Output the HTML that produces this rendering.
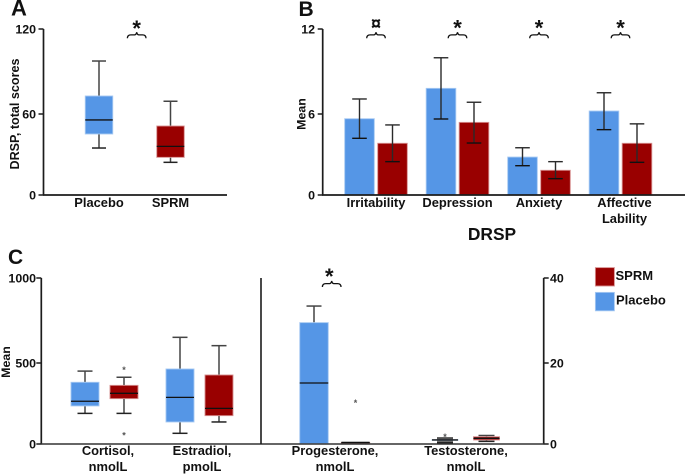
<!DOCTYPE html>
<html lang="en">
<head>
<meta charset="utf-8">
<title>DRSP and hormone charts</title>
<style>
html,body{margin:0;padding:0;background:#fff;}
svg{display:block;font-family:"Liberation Sans",Arial,sans-serif;font-weight:bold;fill:#111;filter:blur(0.3px);}
</style>
</head>
<body>
<svg id="chart" width="685" height="474" viewBox="0 0 685 474" xmlns="http://www.w3.org/2000/svg"></svg>
<script>
// ---- Panel A data ----
const panelACategories = ['Placebo', 'SPRM'];
const panelATicks = [0, 60, 120];
const panelABoxes = [
  { hi: 97.4, q3: 72.7, med: 55.6, q1: 45.2, lo: 34.8 },
  { hi: 69, q3: 51.1, med: 36, q1: 27.9, lo: 24.2 }
];
// ---- Panel B data ----
const panelBCategories = [['Irritability'], ['Depression'], ['Anxiety'], ['Affective', 'Lability']];
const panelBTicks = [0, 6, 12];
const panelBPlacebo = [5.65, 7.81, 2.81, 6.21];
const panelBPlaceboHigh = [7.06, 9.97, 3.5, 7.5];
const panelBPlaceboLow = [4.2, 5.63, 2.17, 4.84];
const panelBSprm = [3.83, 5.38, 1.83, 3.83];
const panelBSprmHigh = [5.19, 6.83, 2.47, 5.27];
const panelBSprmLow = [2.47, 3.85, 1.21, 2.42];
const panelBMarks = ['\u00A4', '*', '*', '*'];
// ---- Panel C data ----
const panelCLeftCategories = [['Cortisol,', 'nmolL'], ['Estradiol,', 'pmolL']];
const panelCRightCategories = [['Progesterone,', 'nmolL'], ['Testosterone,', 'nmolL']];
const panelCLeftTicks = [0, 500, 1000];
const panelCRightTicks = [0, 20, 40];
const panelCLeftBoxes = [
  [{ hi: 450, q3: 381, med: 264, q1: 235, lo: 189, out: [] },
   { hi: 412, q3: 362, med: 313, q1: 280, lo: 189, out: [469, 66] }],
  [{ hi: 651, q3: 463, med: 288, q1: 136, lo: 66, out: [] },
   { hi: 602, q3: 426, med: 220, q1: 175, lo: 136, out: [] }]
];
const panelCRightBoxes = [
  [{ hi: 33.4, q3: 29.5, med: 15.06, q1: 0.1, lo: 0.35, out: [] },
   { hi: 0.35, q3: 0.35, med: 0.35, q1: 0.35, lo: 0.35, out: [10.6] }],
  [{ hi: 1.5, q3: 1.05, med: 1.0, q1: 0.95, lo: 0.3, out: [2.2] },
   { hi: 2.1, q3: 1.8, med: 1.4, q1: 1.0, lo: 0.65, out: [] }]
];
const seriesNames = ['Placebo', 'SPRM'];

const BLUE = '#5596e6', RED = '#990000', BLUE_EDGE = '#a5c8f2', RED_EDGE = '#d79090', INK = '#1c1c1c';
const NS = 'http://www.w3.org/2000/svg';
const root = document.getElementById('chart');

function slug(s) { return String(s).toLowerCase().replace(/[^a-z0-9]+/g, '-').replace(/^-|-$/g, ''); }

function node(tag, name, attrs, interact) {
  const el = document.createElementNS(NS, tag);
  for (const k in attrs) el.setAttribute(k, attrs[k]);
  
  
  root.appendChild(el);
  return el;
}
function line(name, x1, y1, x2, y2, stroke, w) {
  return node('line', name, { x1: x1, y1: y1, x2: x2, y2: y2, stroke: stroke || INK, 'stroke-width': w || 1.4 });
}
function label(name, str, x, y, size, anchor, extra) {
  const el = node('text', name, Object.assign({ x: x, y: y, 'font-size': size, 'text-anchor': anchor || 'middle' }, extra || {}));
  el.textContent = str;
  return el;
}
// Value axis: anchored piecewise-linear mapping through the three printed ticks.
function axisScale(ticks, p0, p1, p2) {
  return function (v) {
    const mid = ticks[1];
    if (v <= mid) return p0 + (p1 - p0) * (v - ticks[0]) / (mid - ticks[0]);
    return p1 + (p2 - p1) * (v - mid) / (ticks[2] - mid);
  };
}
function yAxis(prefix, ticks, scale, x, side, labelX) {
  line(prefix + '-axis-line', x, scale(ticks[0]), x, scale(ticks[ticks.length - 1]), INK, 1.7);
  ticks.forEach(function (t) {
    const y = scale(t);
    line(prefix + '-tick-' + t, x, y, x + side * 5, y, INK, 1.5);
    label(prefix + '-tick-label-' + t, t, labelX, y + 4.5, 12.4, side < 0 ? 'end' : 'start');
  });
}
function brace(name, cx, y) {
  const w = 9.3, h = 6;
  const d = 'M' + (cx - w) + ' ' + (y + h) + ' Q' + (cx - w) + ' ' + (y + 2.6) + ' ' + (cx - w + 3.5) + ' ' + (y + 2.6) +
    ' L' + (cx - 2) + ' ' + (y + 2.6) + ' Q' + (cx - 0.5) + ' ' + (y + 2.4) + ' ' + cx + ' ' + y +
    ' Q' + (cx + 0.5) + ' ' + (y + 2.4) + ' ' + (cx + 2) + ' ' + (y + 2.6) +
    ' L' + (cx + w - 3.5) + ' ' + (y + 2.6) + ' Q' + (cx + w) + ' ' + (y + 2.6) + ' ' + (cx + w) + ' ' + (y + h);
  node('path', name, { d: d, fill: 'none', stroke: '#111', 'stroke-width': 1.3 });
}
function sigMark(name, mark, x, top) {
  if (mark === '*') label(name, mark, x, top + 16, 22, 'middle');
  else label(name, mark, x, top + 10, 18, 'middle');
}
function drawBox(name, b, cx, width, capW, scale, series) {
  const fill = series === 0 ? BLUE : RED;
  const edge = series === 0 ? BLUE_EDGE : RED_EDGE;
  const thin = scale(b.lo) - scale(b.hi) < 8;
  const block = thin && series === 0 && scale(b.lo) - scale(b.hi) > 1;
  line(name + '-whisker', cx, scale(b.hi), cx, scale(b.lo), block ? '#6b6b6b' : '#444', block ? capW : 1.5);
  line(name + '-cap-high', cx - capW / 2, scale(b.hi), cx + capW / 2, scale(b.hi), '#444', 1.5);
  line(name + '-cap-low', cx - capW / 2, scale(b.lo), cx + capW / 2, scale(b.lo), '#222', 1.5);
  node('rect', name + '-box', {
    x: cx - width / 2, y: scale(b.q3), width: width,
    height: Math.max(scale(b.q1) - scale(b.q3), 0.5), fill: fill, stroke: edge, 'stroke-width': 0.9
  });
  line(name + '-median', cx - width / 2, scale(b.med), cx + width / 2, scale(b.med), '#111', 1.3);
  (b.out || []).forEach(function (v, i) {
    const mark = label(name + '-outlier-' + i, '*', cx, scale(v) + 5, 9, 'middle');
    mark.setAttribute('fill', '#555');
  });
}

// ---------- Panel A ----------
const yA = axisScale(panelATicks, 195, 114, 29);
label('panel-a-letter', 'A', 11, 15.5, 22, 'start');
label('panel-a-y-axis-title', 'DRSP, total scores', 19, 114, 12.6, 'middle', { transform: 'rotate(-90 19 114)' });
panelACategories.forEach(function (c, i) {
  const cx = 99 + 71.5 * i;
  drawBox('panel-a-' + slug(c), panelABoxes[i], cx, 27.5, 14, yA, i);
  label('panel-a-x-label-' + slug(c), c, cx, 207, 12.9);
});
yAxis('panel-a-y', panelATicks, yA, 43.5, -1, 36);
line('panel-a-x-axis', 43, yA(0), 227, yA(0), INK, 1.7);
sigMark('panel-a-significance-star', '*', 136.7, 20);
brace('panel-a-significance-brace', 136.7, 32.3);

// ---------- Panel B ----------
const yB = axisScale(panelBTicks, 195, 114, 29);
label('panel-b-letter', 'B', 298.5, 16, 21, 'start');
label('panel-b-y-axis-title', 'Mean', 305.5, 114, 12.4, 'middle', { transform: 'rotate(-90 305.5 114)' });
function barB(group, series, i, value, hi, lo) {
  const left = 344.7 + 81.5 * i + 33 * series;
  const name = 'panel-b-' + group + '-' + slug(seriesNames[series]);
  const cx = left + 14.8;
  node('rect', name + '-bar', {
    x: left, y: yB(value), width: 29.6, height: yB(0) - yB(value),
    fill: series === 0 ? BLUE : RED, stroke: series === 0 ? BLUE_EDGE : RED_EDGE, 'stroke-width': 0.9
  });
  line(name + '-error-bar', cx, yB(hi), cx, yB(lo), '#2a2a2a', 1.4);
  line(name + '-error-cap-high', cx - 7.3, yB(hi), cx + 7.3, yB(hi), '#2a2a2a', 1.4);
  line(name + '-error-cap-low', cx - 7.3, yB(lo), cx + 7.3, yB(lo), '#111', 1.4);
}
panelBCategories.forEach(function (c, i) {
  const g = slug(c[0]);
  barB(g, 0, i, panelBPlacebo[i], panelBPlaceboHigh[i], panelBPlaceboLow[i]);
  barB(g, 1, i, panelBSprm[i], panelBSprmHigh[i], panelBSprmLow[i]);
  const center = 376 + 81.5 * i;
  const textCenter = i === 3 ? center + 4 : center;
  c.forEach(function (t, k) {
    label('panel-b-x-label-' + slug(t), t, textCenter, 207 + 16 * k, 12.9);
  });
  sigMark('panel-b-significance-mark-' + g, panelBMarks[i], center, 19.5);
  brace('panel-b-significance-brace-' + g, center, 32.3);
});
yAxis('panel-b-y', panelBTicks, yB, 322.7, -1, 315);
line('panel-b-x-axis', 322, yB(0), 685, yB(0), INK, 1.7);
label('panel-b-x-axis-title', 'DRSP', 492, 240, 17.4);

// ---------- Panel C ----------
const yCL = axisScale(panelCLeftTicks, 444, 363, 278);
const yCR = axisScale(panelCRightTicks, 444, 363, 278);
label('panel-c-letter', 'C', 8, 264, 21, 'start');
label('panel-c-y-axis-title', 'Mean', 10, 362, 12.4, 'middle', { transform: 'rotate(-90 10 362)' });
panelCLeftCategories.forEach(function (c, g) {
  const base = 85 + 95 * g;
  panelCLeftBoxes[g].forEach(function (b, s) {
    drawBox('panel-c-' + slug(c[0]) + '-' + slug(seriesNames[s]), b, base + 39 * s, 28, 15, yCL, s);
  });
  c.forEach(function (t, k) {
    label('panel-c-x-label-' + slug(c[0]) + '-' + k, t, base + 23 - 1 * g, 455 + 16 * k, 12.9);
  });
});
panelCRightCategories.forEach(function (c, g) {
  const base = 314 + 131 * g;
  panelCRightBoxes[g].forEach(function (b, s) {
    const w = g === 1 ? 26 : 28.5;
    const cap = g === 1 ? 16 : (s === 1 ? 28 : 15);
    drawBox('panel-c-' + slug(c[0]) + '-' + slug(seriesNames[s]), b, base + 41.5 * s, w, cap, yCR, s);
  });
  c.forEach(function (t, k) {
    label('panel-c-x-label-' + slug(c[0]) + '-' + k, t, base + 21, 455 + 16 * k, 12.9);
  });
});
yAxis('panel-c-left-y', panelCLeftTicks, yCL, 41.3, -1, 36);
yAxis('panel-c-right-y', panelCRightTicks, yCR, 543.7, 1, 550);
line('panel-c-x-axis', 41, yCL(0), 544, yCL(0), '#333', 1.6);
line('panel-c-divider', 261, 278, 261, yCL(0), INK, 1.6);
sigMark('panel-c-significance-star', '*', 329.3, 268);
brace('panel-c-significance-brace', 331.7, 281);

// ---------- Legend ----------
node('rect', 'legend-swatch-sprm', { x: 595.4, y: 267.6, width: 19, height: 18.4, fill: RED, stroke: RED_EDGE, 'stroke-width': 0.9 });
label('legend-label-sprm', 'SPRM', 615.5, 280, 13, 'start');
node('rect', 'legend-swatch-placebo', { x: 595.4, y: 292.4, width: 19, height: 18.4, fill: BLUE, stroke: BLUE_EDGE, 'stroke-width': 0.9 });
label('legend-label-placebo', 'Placebo', 616, 304.7, 13, 'start');
</script>
</body>
</html>
